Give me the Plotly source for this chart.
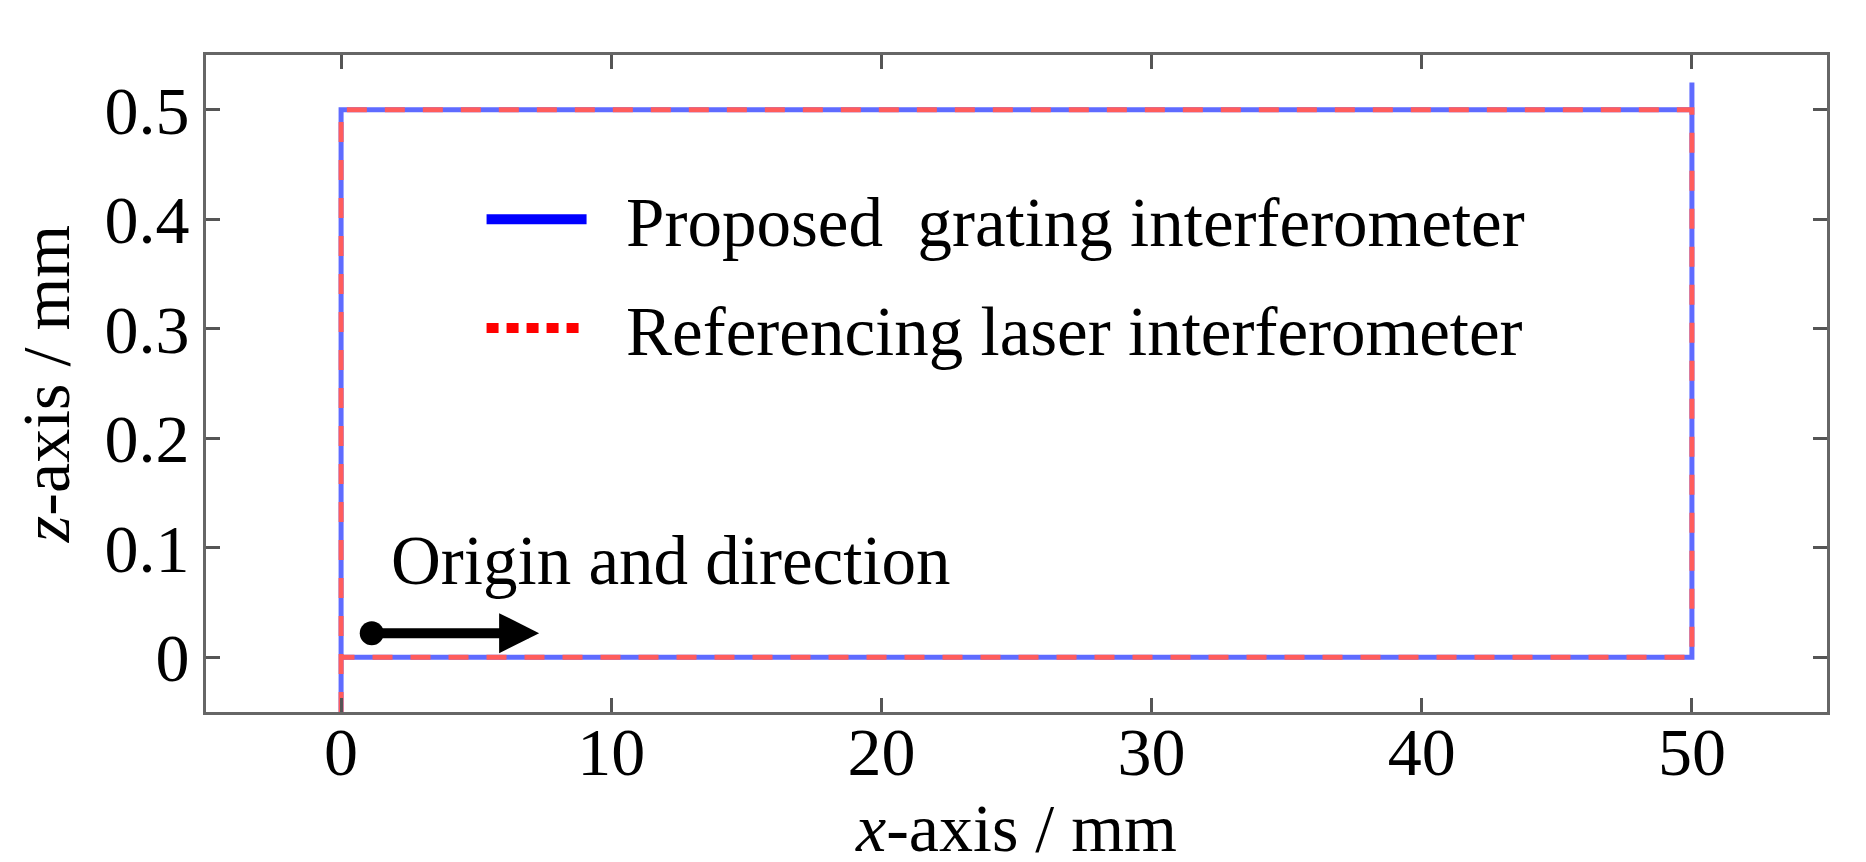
import plotly.graph_objects as go

# Measured trajectory (mm)
x_proposed = [0, 0, 50, 50, 50, 0]
z_proposed = [-0.05, 0.5, 0.5, 0.525, 0, 0]
x_reference = [0, 0, 50, 50, 0]
z_reference = [-0.05, 0.5, 0.5, 0, 0]

x_ticks = [0, 10, 20, 30, 40, 50]
x_ticktext = ["0", "10", "20", "30", "40", "50"]
z_ticks = [0, 0.1, 0.2, 0.3, 0.4, 0.5]
z_ticktext = ["0", "0.1", "0.2", "0.3", "0.4", "0.5"]

series_names = ["Proposed  grating interferometer", "Referencing laser interferometer"]

FONT = "Liberation Serif"
FS = 68

fig = go.Figure()

fig.add_trace(go.Scatter(x=x_proposed, y=z_proposed, mode="lines",
                         line=dict(color="#5f6bff", width=5),
                         showlegend=False, hoverinfo="skip"))
fig.add_trace(go.Scatter(x=x_reference, y=z_reference, mode="lines",
                         line=dict(color="#ff5c5c", width=5, dash="20px,18px"),
                         showlegend=False, hoverinfo="skip"))

# legend entries
fig.add_trace(go.Scatter(x=[None], y=[None], mode="lines",
                         name="\u00a0\u00a0" + series_names[0],
                         line=dict(color="#0000ff", width=11), legendgroup="a"))
fig.add_trace(go.Scatter(x=[None], y=[None], mode="lines",
                         name="\u00a0\u00a0" + series_names[1],
                         line=dict(color="#ff0000", width=11, dash="12px,8px"), legendgroup="b"))

fig.add_annotation(x=1.77, y=0.088, xref="x", yref="y", text="Origin and direction",
                   showarrow=False, xanchor="left", yanchor="middle",
                   font=dict(family=FONT, size=FS + 1, color="black"))
fig.add_annotation(x=7.33, y=0.022, ax=1.08, ay=0.022, xref="x", yref="y",
                   axref="x", ayref="y", text="", showarrow=True,
                   arrowhead=2, arrowsize=0.8, arrowwidth=10, arrowcolor="black",
                   arrowside="end+start", startarrowhead=6, startarrowsize=0.6)

axis_common = dict(showline=True, linecolor="#666666", linewidth=3, mirror="ticks",
                   ticks="inside", ticklen=14, tickwidth=3, tickcolor="#555555",
                   showgrid=False, zeroline=False,
                   tickfont=dict(family=FONT, size=FS, color="black"))

fig.update_xaxes(range=[-5, 55], tickvals=x_ticks, ticktext=x_ticktext,
                 ticklabelstandoff=-22,
                 title=dict(text="<i>x</i>-axis / mm", standoff=6,
                            font=dict(family=FONT, size=FS, color="black")),
                 **axis_common)
fig.update_yaxes(range=[-0.05, 0.55], tickvals=z_ticks, ticktext=z_ticktext,
                 title=dict(text="<i>z</i>-axis / mm", standoff=20,
                            font=dict(family=FONT, size=FS, color="black")),
                 **axis_common)

fig.update_layout(
    width=1866, height=862, autosize=False,
    margin=dict(l=198, r=47, t=47, b=158, pad=0),
    plot_bgcolor="white", paper_bgcolor="white",
    legend=dict(x=0.17, y=0.828, xanchor="left", yanchor="top",
                font=dict(family=FONT, size=FS + 1, color="black"),
                bgcolor="rgba(0,0,0,0)", itemwidth=100,
                traceorder="grouped", tracegroupgap=16),
)

fig.write_html("out.html")
